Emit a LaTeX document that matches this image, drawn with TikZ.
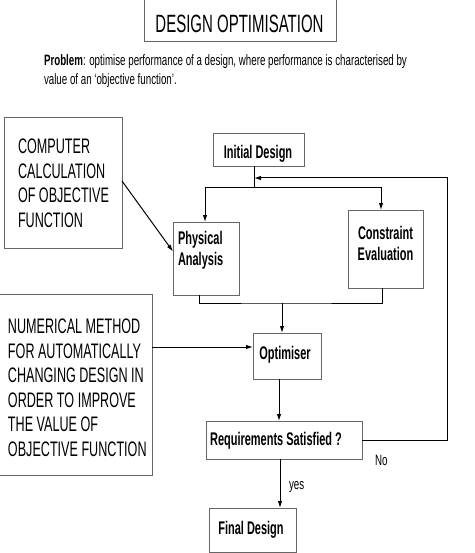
\documentclass[tikz,border=0pt]{standalone}
\usepackage{fontspec}
\usetikzlibrary{arrows.meta}
\newfontfamily\nar{Liberation Sans}[FakeStretch=0.6]
\newfontfamily\narp{Liberation Sans}[FakeStretch=0.65]
\begin{document}
\begin{tikzpicture}[x=1pt,y=-1pt,
  box/.style={draw=black!60,line width=0.9pt,inner sep=0pt,outer sep=0pt},
  txt/.style={inner sep=0pt,outer sep=0pt,text=black},
  capsfont/.style={font=\nar\fontsize{21}{24.5}\selectfont},
  bfont/.style={font=\nar\bfseries\fontsize{18.3}{21.5}\selectfont},
  conn/.style={line width=1pt,draw=black},
  arr/.style={conn,-{Latex[length=7pt,width=4.5pt]}}]
\useasboundingbox (0,0) rectangle (474,553);
% boxes
\node[box,minimum width=192pt,minimum height=46pt] (title) at (240,18) {};
\node[box,minimum width=118pt,minimum height=131pt] (comp) at (63,182.5) {};
\node[box,minimum width=157pt,minimum height=181pt] (num) at (73.5,384.5) {};
\node[box,minimum width=91pt,minimum height=33pt] (init) at (258.5,149.5) {};
\node[box,minimum width=66pt,minimum height=73pt] (pa) at (206,258.5) {};
\node[box,minimum width=75pt,minimum height=78pt] (ce) at (385.5,249) {};
\node[box,minimum width=68pt,minimum height=46pt] (opt) at (287,356) {};
\node[box,minimum width=156pt,minimum height=38pt] (req) at (284,440) {};
\node[box,minimum width=87pt,minimum height=44pt] (final) at (252.5,530) {};
% texts
\node[txt,anchor=base,font=\nar\fontsize{25}{30}\selectfont] (titleT) at (239.5,33) {DESIGN OPTIMISATION};
\node[txt,anchor=base west,font=\narp\fontsize{15}{18}\selectfont] (prob1) at (44,66) {\textbf{Problem}: optimise performance of a design, where performance is characterised by};
\node[txt,anchor=base west,font=\narp\fontsize{15}{18}\selectfont] (prob2) at (44,85) {value of an ‘objective function’.};
\node[txt,capsfont,anchor=north west,align=left] (compT) at (18,139) {COMPUTER\\CALCULATION\\OF OBJECTIVE\\FUNCTION};
\node[txt,capsfont,anchor=north west,align=left] (numT) at (8,319) {NUMERICAL METHOD\\FOR AUTOMATICALLY\\CHANGING DESIGN IN\\ORDER TO IMPROVE\\THE VALUE OF\\OBJECTIVE FUNCTION};
\node[txt,bfont,anchor=base] (initT) at (258,159) {Initial Design};
\node[txt,bfont,anchor=north west,align=left] (paT) at (178,231) {Physical\\Analysis};
\node[txt,bfont,anchor=north,align=center] (ceT) at (385.5,226) {Constraint\\Evaluation};
\node[txt,bfont,anchor=base] (optT) at (285,359) {Optimiser};
\node[txt,bfont,anchor=base] (reqT) at (276,445) {Requirements Satisfied ?};
\node[txt,bfont,anchor=base] (finalT) at (251,534) {Final Design};
\node[txt,anchor=base west,font=\narp\fontsize{15}{18}\selectfont] (noT) at (375,465) {No};
\node[txt,anchor=base west,font=\narp\fontsize{15}{18}\selectfont] (yesT) at (289,489) {yes};
% connectors
\coordinate (j1) at (254,188);
\coordinate (fb) at (447,178);
\coordinate (m) at (282,303);
\draw[conn] ([xshift=-4.5pt]init.south) -- (j1);
\draw[arr] (j1) -| ([xshift=-1pt]pa.north);
\draw[arr] (j1) -| ([xshift=-4.5pt]ce.north);
\draw[arr] (req.east) -| (fb) -- (fb -| j1);
\draw[conn] ([xshift=-7pt]pa.south) |- (m) -| ([xshift=-3.5pt]ce.south);
\draw[arr] (m) -- ([xshift=-5pt]opt.north);
\draw[arr] ([xshift=-8pt]opt.south) -- ([xshift=-5pt]req.north);
\draw[arr] ([xshift=-4pt]req.south) -- ([xshift=27.5pt]final.north);
\draw[arr] ([yshift=9pt]opt.west -| num.east) -- ([yshift=9pt]opt.west);
\draw[arr] ([yshift=1.5pt]comp.east) -- ([yshift=7pt]pa.west);
\end{tikzpicture}
\end{document}
